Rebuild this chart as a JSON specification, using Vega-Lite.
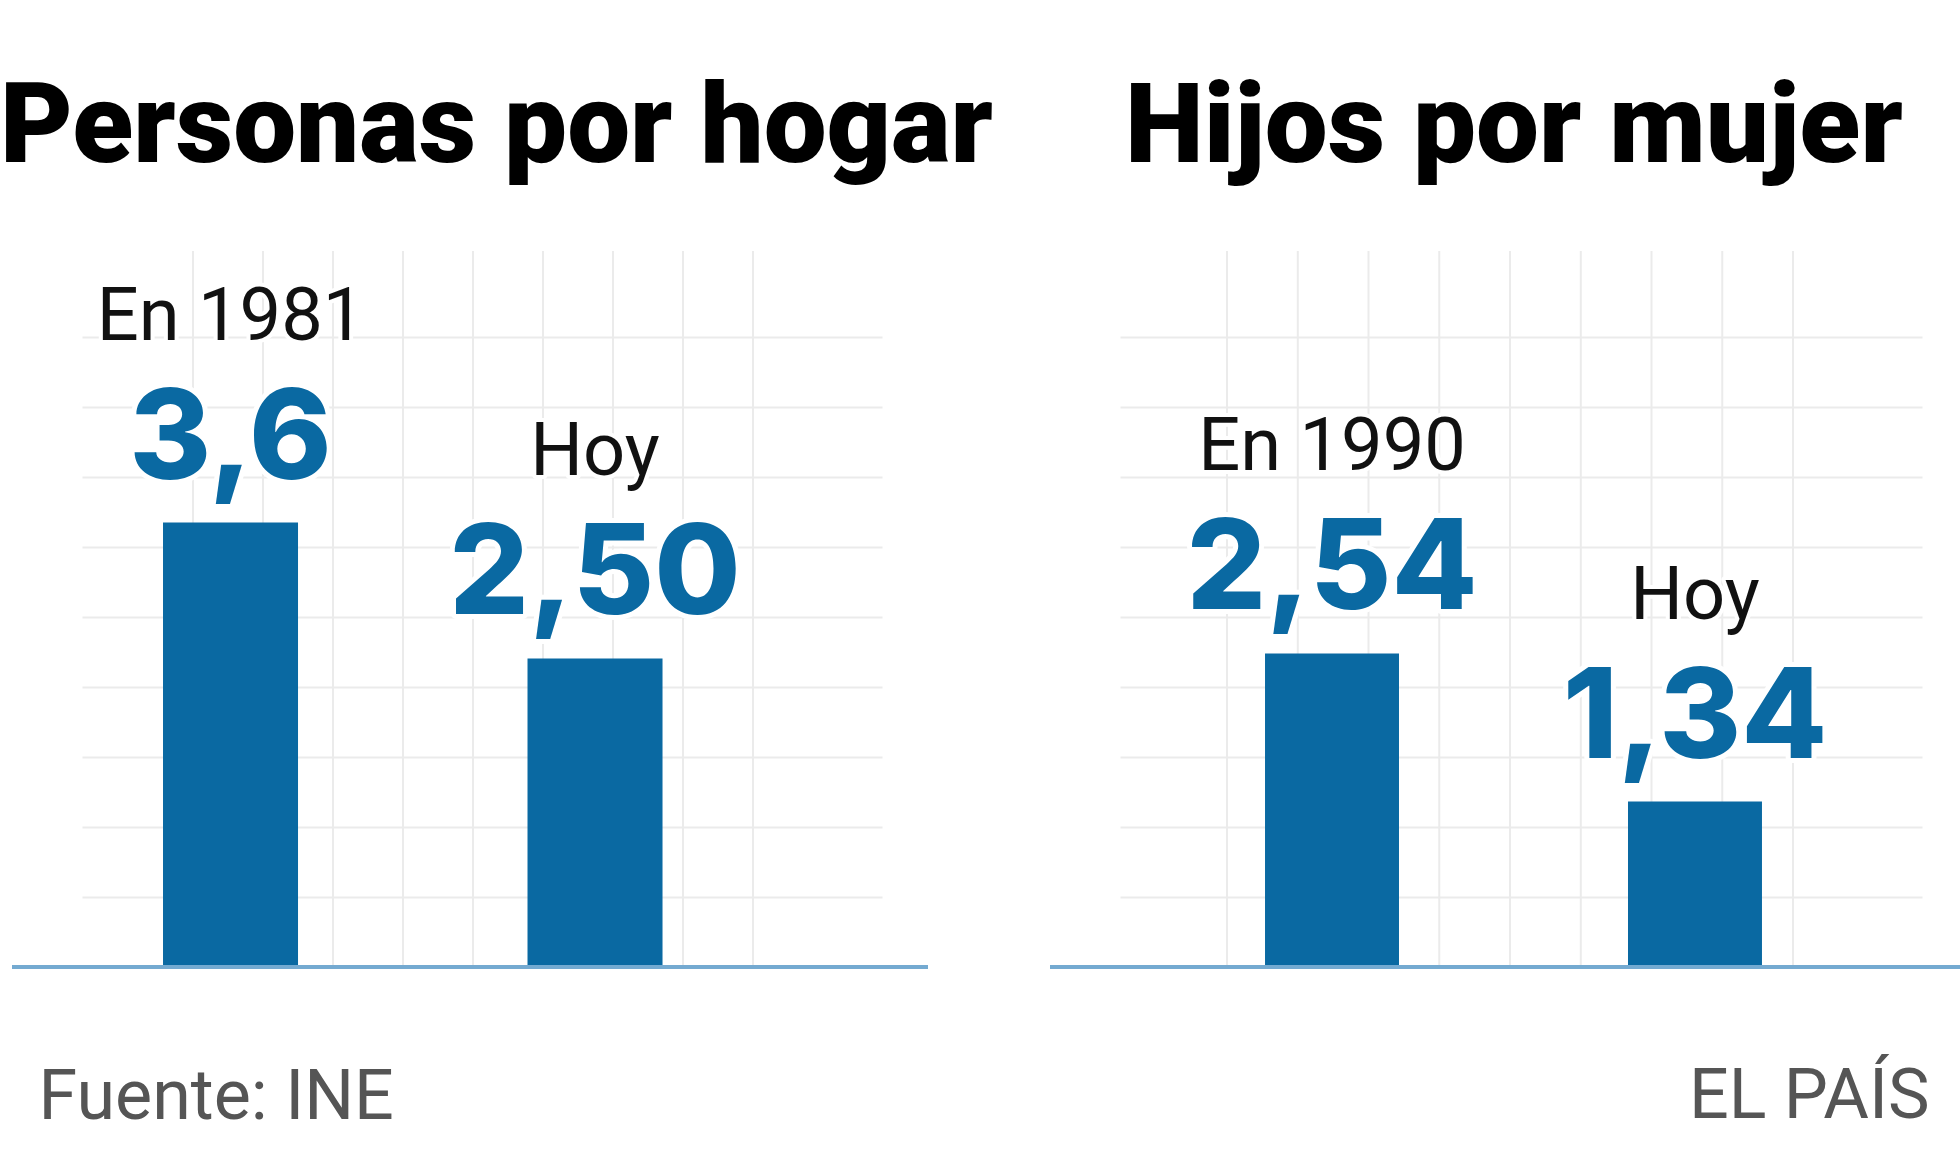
{
  "$schema": "https://vega.github.io/schema/vega-lite/v6.json",
  "padding": {"left": 0, "top": 72, "right": 0, "bottom": 40},
  "bounds": "flush",
  "spacing": 122,
  "datasets": {
    "hogar": [
      {"periodo": "En 1981", "valor": 3.6, "etiqueta": "3,6"},
      {"periodo": "Hoy", "valor": 2.5, "etiqueta": "2,50"}
    ],
    "mujer": [
      {"periodo": "En 1990", "valor": 2.54, "etiqueta": "2,54"},
      {"periodo": "Hoy", "valor": 1.34, "etiqueta": "1,34"}
    ],
    "rejilla": [
      {"g": 1}, {"g": 2}, {"g": 3}, {"g": 4}, {"g": 5},
      {"g": 6}, {"g": 7}, {"g": 8}, {"g": 9}
    ]
  },
  "hconcat": [
    {
      "width": 916,
      "height": 716,
      "title": {
        "text": "Personas por hogar", "anchor": "start", "frame": "group",
        "dx": -12, "offset": -24, "baseline": "alphabetic",
        "font": "Roboto", "fontSize": 112, "fontWeight": 900, "color": "#000000"
      },
      "layer": [
        {
          "data": {"name": "rejilla"},
          "mark": {"type": "rule", "color": "#ebebeb", "strokeWidth": 2},
          "encoding": {
            "x": {"field": "g", "type": "quantitative", "scale": {"domain": [-1.586, 11.5]}, "axis": null}
          }
        },
        {
          "data": {"name": "hogar"},
          "encoding": {
            "x": {
              "field": "periodo", "type": "nominal", "sort": null,
              "scale": {"range": [70, 870], "paddingInner": 0.6296, "paddingOuter": 0.4122, "align": 0.2696},
              "axis": {
                "labels": false, "ticks": false, "domain": false, "grid": false,
                "title": "Fuente: INE", "titleX": 26, "titleY": 151,
                "titleAlign": "left", "titleBaseline": "alphabetic",
                "titleFont": "Roboto", "titleFontSize": 70, "titleFontWeight": "normal", "titleColor": "#555555"
              }
            },
            "y": {
              "field": "valor", "type": "quantitative",
              "scale": {"domain": [0, 5.8], "nice": false},
              "axis": {
                "values": [0.567, 1.134, 1.701, 2.268, 2.835, 3.402, 3.969, 4.536, 5.103],
                "grid": true, "gridColor": "#ebebeb", "gridWidth": 2,
                "labels": false, "ticks": false, "domain": false, "title": null
              }
            }
          },
          "layer": [
            {"mark": {"type": "bar", "color": "#0a69a2"}},
            {
              "mark": {"type": "text", "baseline": "alphabetic", "dy": -44, "font": "Inter", "fontSize": 125, "fontWeight": 800, "fill": "#ffffff", "stroke": "#ffffff", "strokeWidth": 10, "strokeJoin": "round"},
              "encoding": {"text": {"field": "etiqueta"}}
            },
            {
              "mark": {"type": "text", "baseline": "alphabetic", "dy": -44, "font": "Inter", "fontSize": 125, "fontWeight": 800, "color": "#0a69a2"},
              "encoding": {"text": {"field": "etiqueta"}}
            },
            {
              "mark": {"type": "text", "baseline": "alphabetic", "dy": -183, "font": "Roboto", "fontSize": 74, "fill": "#ffffff", "stroke": "#ffffff", "strokeWidth": 8, "strokeJoin": "round"},
              "encoding": {"text": {"field": "periodo"}}
            },
            {
              "mark": {"type": "text", "baseline": "alphabetic", "dy": -183, "font": "Roboto", "fontSize": 74, "color": "#111111"},
              "encoding": {"text": {"field": "periodo"}}
            }
          ]
        },
        {
          "data": {"values": [{}]},
          "mark": {"type": "rule", "color": "#74aad1", "strokeWidth": 4},
          "encoding": {"y": {"datum": 0}}
        }
      ],
      "resolve": {"scale": {"x": "independent"}}
    },
    {
      "width": 910,
      "height": 716,
      "title": {
        "text": "Hijos por mujer", "anchor": "start", "frame": "group",
        "dx": 75, "offset": -24, "baseline": "alphabetic",
        "font": "Roboto", "fontSize": 112, "fontWeight": 900, "color": "#000000"
      },
      "layer": [
        {
          "data": {"name": "rejilla"},
          "mark": {"type": "rule", "color": "#ebebeb", "strokeWidth": 2},
          "encoding": {
            "x": {"field": "g", "type": "quantitative", "scale": {"domain": [-1.502, 11.36]}, "axis": null}
          }
        },
        {
          "data": {"name": "mujer"},
          "encoding": {
            "x": {
              "field": "periodo", "type": "nominal", "sort": null,
              "scale": {"range": [70, 872], "paddingInner": 0.6309, "paddingOuter": 0.4202, "align": 0.4754},
              "axis": {
                "labels": false, "ticks": false, "domain": false, "grid": false,
                "title": "EL PAÍS", "titleX": 879, "titleY": 150,
                "titleAlign": "right", "titleBaseline": "alphabetic",
                "titleFont": "Roboto", "titleFontSize": 70, "titleFontWeight": "normal", "titleColor": "#555555"
              }
            },
            "y": {
              "field": "valor", "type": "quantitative",
              "scale": {"domain": [0, 5.8], "nice": false},
              "axis": {
                "values": [0.567, 1.134, 1.701, 2.268, 2.835, 3.402, 3.969, 4.536, 5.103],
                "grid": true, "gridColor": "#ebebeb", "gridWidth": 2,
                "labels": false, "ticks": false, "domain": false, "title": null
              }
            }
          },
          "layer": [
            {"mark": {"type": "bar", "color": "#0a69a2"}},
            {
              "mark": {"type": "text", "baseline": "alphabetic", "dy": -44, "font": "Inter", "fontSize": 125, "fontWeight": 800, "fill": "#ffffff", "stroke": "#ffffff", "strokeWidth": 10, "strokeJoin": "round"},
              "encoding": {"text": {"field": "etiqueta"}}
            },
            {
              "mark": {"type": "text", "baseline": "alphabetic", "dy": -44, "font": "Inter", "fontSize": 125, "fontWeight": 800, "color": "#0a69a2"},
              "encoding": {"text": {"field": "etiqueta"}}
            },
            {
              "mark": {"type": "text", "baseline": "alphabetic", "dy": -183, "font": "Roboto", "fontSize": 74, "fill": "#ffffff", "stroke": "#ffffff", "strokeWidth": 8, "strokeJoin": "round"},
              "encoding": {"text": {"field": "periodo"}}
            },
            {
              "mark": {"type": "text", "baseline": "alphabetic", "dy": -183, "font": "Roboto", "fontSize": 74, "color": "#111111"},
              "encoding": {"text": {"field": "periodo"}}
            }
          ]
        },
        {
          "data": {"values": [{}]},
          "mark": {"type": "rule", "color": "#74aad1", "strokeWidth": 4},
          "encoding": {"y": {"datum": 0}}
        }
      ],
      "resolve": {"scale": {"x": "independent"}}
    }
  ],
  "config": {
    "view": {"stroke": null},
    "font": "Roboto"
  }
}
